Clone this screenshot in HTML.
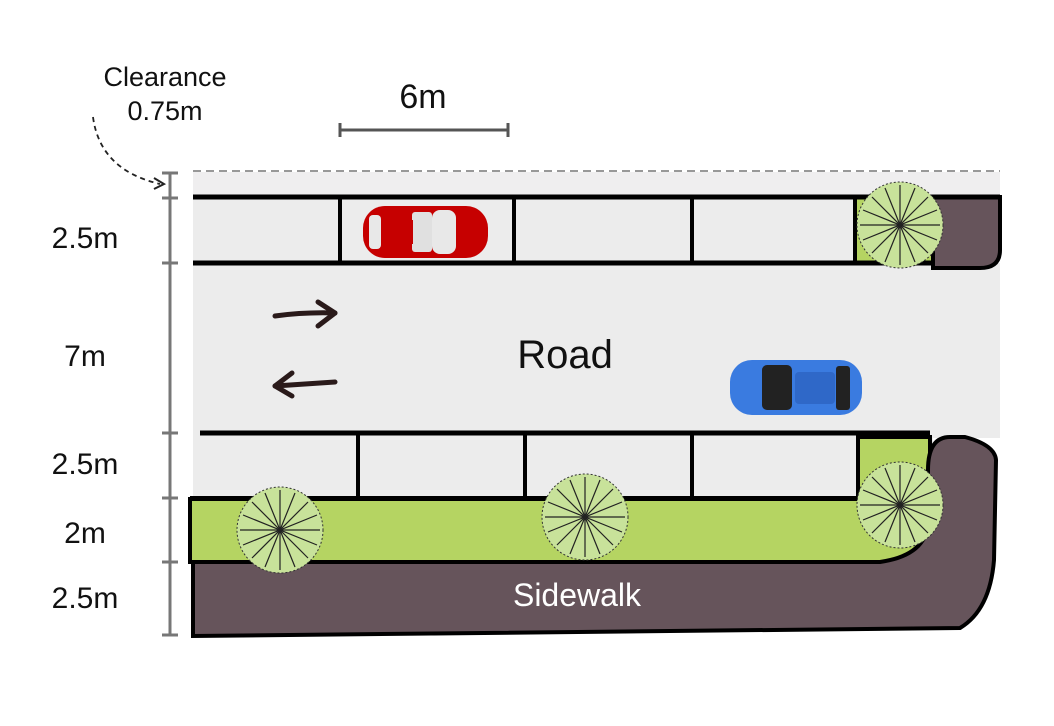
<!DOCTYPE html>
<html><head><meta charset="utf-8"><style>
html,body{margin:0;padding:0;background:#fff;}
svg{display:block;}
text{font-family:"Liberation Sans",sans-serif;}
</style></head><body>
<svg width="1054" height="726" viewBox="0 0 1054 726" xmlns="http://www.w3.org/2000/svg">
<defs>
<g id="tree">
<circle r="43" fill="#c8e29a"/>
<circle r="43" fill="none" stroke="#333" stroke-width="1" stroke-dasharray="2 2"/>
<g stroke="#222" stroke-width="1.2">
<line x1="-40" y1="0" x2="40" y2="0"/><line x1="0" y1="-40" x2="0" y2="40"/>
<line x1="-28" y1="-28" x2="28" y2="28"/><line x1="-28" y1="28" x2="28" y2="-28"/>
<line x1="-37" y1="-15" x2="37" y2="15"/><line x1="-15" y1="-37" x2="15" y2="37"/>
<line x1="-37" y1="15" x2="37" y2="-15"/><line x1="15" y1="-37" x2="-15" y2="37"/>
</g></g>
</defs>
<rect x="193" y="172" width="807" height="24" fill="#efeeef"/>
<line x1="193" y1="171" x2="1000" y2="171" stroke="#777" stroke-width="1.5" stroke-dasharray="8 5"/>
<rect x="193" y="197" width="740" height="302" fill="#ececec"/>
<rect x="930" y="263" width="70" height="175" fill="#ececec"/>
<rect x="855" y="197" width="80" height="66" fill="#b5d462"/>
<path d="M933 197 H1000 V250 Q1000 268 980 268 H933 Z" fill="#66545b" stroke="#000" stroke-width="4"/>
<line x1="193" y1="197" x2="1000" y2="197" stroke="#000" stroke-width="5"/>
<line x1="193" y1="263" x2="935" y2="263" stroke="#000" stroke-width="5"/>
<g stroke="#000" stroke-width="4">
<line x1="340" y1="197" x2="340" y2="263"/><line x1="514" y1="197" x2="514" y2="263"/>
<line x1="692" y1="197" x2="692" y2="263"/><line x1="855" y1="197" x2="855" y2="263"/>
</g>
<path d="M858 437 H930 V498 H858 Z" fill="#b5d462"/>
<path d="M190 499 H858 V437 H930 V562 H190 Z" fill="#b5d462" stroke="#000" stroke-width="4"/>
<path d="M928 470 Q928 437 950 437 L965 437 Q995 445 996 460 L994 560 Q990 610 960 628 L193 636 V562 H880 Q928 555 928 520 Z" fill="#66545b" stroke="#000" stroke-width="4"/>
<rect x="200" y="433" width="658" height="65" fill="#ececec"/>
<line x1="200" y1="433" x2="930" y2="433" stroke="#000" stroke-width="5"/>
<line x1="190" y1="498" x2="860" y2="498" stroke="#000" stroke-width="4"/>
<g stroke="#000" stroke-width="4">
<line x1="358" y1="433" x2="358" y2="498"/><line x1="525" y1="433" x2="525" y2="498"/>
<line x1="692" y1="433" x2="692" y2="498"/><line x1="858" y1="433" x2="858" y2="498"/>
</g>
<use href="#tree" x="900" y="225"/>
<use href="#tree" x="280" y="530"/>
<use href="#tree" x="585" y="517"/>
<use href="#tree" x="900" y="505"/>
<!-- red car -->
<rect x="363" y="206" width="125" height="52" rx="22" fill="#c60000"/>
<rect x="369" y="215" width="12" height="34" rx="4" fill="#e8e8e8"/>
<rect x="412" y="212" width="20" height="40" rx="3" fill="#e0e0e0"/>
<rect x="432" y="210" width="24" height="44" rx="8" fill="#e8e8e8"/>
<rect x="383" y="220" width="30" height="24" fill="#c60000"/>
<!-- blue car -->
<rect x="730" y="360" width="132" height="55" rx="22" fill="#3a7be0"/>
<rect x="762" y="365" width="30" height="45" rx="5" fill="#222"/>
<rect x="795" y="372" width="40" height="32" rx="4" fill="#2f68c8"/>
<rect x="836" y="366" width="14" height="44" rx="3" fill="#222"/>
<g stroke="#2a1a1a" stroke-width="5" fill="none" stroke-linecap="round" stroke-linejoin="round">
<path d="M275 316 Q305 312 335 313"/><path d="M318 302 L335 313 L318 326"/>
<path d="M335 382 Q305 384 275 386"/><path d="M292 373 L275 386 L292 396"/>
</g>
<text x="565" y="368" font-size="40" text-anchor="middle" fill="#111">Road</text>
<text x="577" y="606" font-size="32" text-anchor="middle" fill="#fff">Sidewalk</text>
<g stroke="#777" stroke-width="3">
<line x1="170" y1="173" x2="170" y2="635"/>
<line x1="162" y1="173" x2="178" y2="173"/><line x1="162" y1="198" x2="178" y2="198"/>
<line x1="162" y1="263" x2="178" y2="263"/><line x1="162" y1="433" x2="178" y2="433"/>
<line x1="162" y1="498" x2="178" y2="498"/><line x1="162" y1="562" x2="178" y2="562"/>
<line x1="162" y1="635" x2="178" y2="635"/>
</g>
<g font-size="30" fill="#111" text-anchor="middle">
<text x="85" y="248">2.5m</text><text x="85" y="366">7m</text>
<text x="85" y="474">2.5m</text><text x="85" y="543">2m</text><text x="85" y="608">2.5m</text>
</g>
<line x1="340" y1="130" x2="508" y2="130" stroke="#555" stroke-width="3"/>
<line x1="340" y1="123" x2="340" y2="137" stroke="#555" stroke-width="3"/>
<line x1="508" y1="123" x2="508" y2="137" stroke="#555" stroke-width="3"/>
<text x="423" y="108" font-size="34" text-anchor="middle" fill="#111">6m</text>
<text x="165" y="86" font-size="27" text-anchor="middle" fill="#111">Clearance</text>
<text x="165" y="120" font-size="27" text-anchor="middle" fill="#111">0.75m</text>
<path d="M93 117 Q100 170 160 184" fill="none" stroke="#222" stroke-width="1.8" stroke-dasharray="5 4"/>
<path d="M154 178 L164 184 L154 189" fill="none" stroke="#222" stroke-width="2"/>
</svg>
</body></html>
